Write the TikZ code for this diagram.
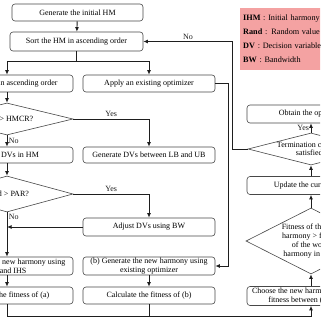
\documentclass[tikz,border=0pt]{standalone}
\usepackage{fontspec}
\setmainfont{Liberation Serif}
\usetikzlibrary{arrows.meta,positioning,shapes.geometric}
\definecolor{ink}{HTML}{1E1E1E}
\definecolor{rim}{HTML}{474747}
\definecolor{blush}{HTML}{F4A2A2}
\newcommand{\flowtxt}{\fontsize{8}{8.8}\selectfont}
\tikzset{stepbox/.style={draw=rim,rounded corners=3pt,line width=.6pt,fill=white,inner sep=1pt,font=\flowtxt,align=center,minimum width=132pt,minimum height=17pt}, query/.style={draw=rim,diamond,line width=.6pt,inner sep=0pt,fill=white}, flow/.style={line width=.9pt,ink,-{Latex[length=4.5pt,width=4pt]}}, plain/.style={line width=.9pt,ink}, tag/.style={font=\flowtxt,inner sep=1.5pt,align=center}, keybox/.style={fill=blush,inner xsep=3pt,inner ysep=7pt,text width=150pt,align=left,font=\fontsize{8.2}{14}\selectfont}}

\begin{document}
\begin{tikzpicture}[x=1pt,y=-1pt]
\useasboundingbox (0,0) rectangle (320,320);
\clip (0,0) rectangle (320,320);
\fill[white] (0,0) rectangle (320,320);
% top
\node[stepbox,minimum width=131pt] (init) at (77.5,12.5) {Generate the initial HM};
\node[stepbox,minimum width=133pt,minimum height=19pt] (sorthm) at (76.5,41.5) {Sort the HM in ascending order};
% harmony search branch
\node[stepbox] (half) at (7,83.5) {Sort the HM in ascending order};
\node[query,minimum width=132pt,minimum height=32pt,label={[tag]center:Rand > HMCR?}] (hmcr) at (7,119) {};
\node[stepbox,minimum height=16pt] (pickdv) at (7,155) {Choose DVs in HM};
\node[query,minimum width=132pt,minimum height=36pt,label={[tag]center:Rand > PAR?}] (par) at (7,194) {};
\node[stepbox,minimum height=18pt] (boxa) at (7,266) {(a) Generate the new harmony using\\HS and IHS};
\node[stepbox] (fita) at (7,295.5) {Calculate the fitness of (a)};
% optimizer branch
\node[stepbox] (apply) at (149,83.5) {Apply an existing optimizer};
\node[stepbox,minimum height=16pt] (gendv) at (149,155) {Generate DVs between LB and UB};
\node[stepbox,minimum height=18pt] (adjust) at (149,227) {Adjust DVs using BW};
\node[stepbox,minimum height=18pt] (boxb) at (149,266) {(b) Generate the new harmony using\\existing optimizer};
\node[stepbox] (fitb) at (149,295.5) {Calculate the fitness of (b)};
% update column
\node[keybox,anchor=north west] (key) at (240,8) {\textbf{IHM} : Initial harmony memory\\\textbf{Rand} : Random value between 0 and 1\\\textbf{DV} : Decision variable\\\textbf{BW} : Bandwidth};
\node[stepbox,minimum width=128pt,minimum height=18pt] (best) at (311,114) {Obtain the optimum};
\node[query,minimum width=126pt,minimum height=32pt,label={[tag]center:Termination criterion\\satisfied?}] (term) at (311,149) {};
\node[stepbox,minimum width=128pt,minimum height=18pt] (update) at (311,185.5) {Update the current HM};
\node[query,minimum width=130pt,minimum height=66pt,label={[tag]center:Fitness of the new\\harmony > fitness\\of the worst\\harmony in HM?}] (better) at (311,241) {};
\node[stepbox,minimum width=128pt,minimum height=19pt] (pick) at (311,296) {Choose the new harmony with better\\fitness between (a) and (b)};

\draw[flow] (init) -- (sorthm);
\draw[plain] (sorthm.south) -- ++(0,10) coordinate (fork);
\draw[flow] (fork) -| (half.north);
\draw[flow] (fork) -| (apply.north);
\draw[flow] (half) -- (hmcr);
\draw[flow] (hmcr.east) -| node[tag,above,pos=.25] {Yes} (gendv.north);
\draw[flow] (hmcr) -- node[tag,right] {No} (pickdv);
\draw[flow] (pickdv) -- (par);
\draw[flow] (par.east) -| node[tag,above,pos=.25] {Yes} (adjust.north);
\draw[flow] (par) -- node[tag,right,pos=.1] {No} (boxa);
\draw[flow] (adjust.west) -- (adjust.west -| par.south);
\draw[flow] (apply.east) -- ++(13,0) |- (boxb.east);
\draw[flow] (boxa) -- (fita);
\draw[flow] (boxb) -- (fitb);
\draw[flow] (fita.south) -- ++(0,12.5) -| (pick.south);
\draw[plain] (fitb.south) -- ++(0,12.5);
\draw[flow] (pick) -- (better);
\draw[flow] (better) -- (update);
\draw[flow] (update) -- (term);
\draw[flow] (term) -- node[tag,left] {Yes} (best);
\draw[flow] (term.west) -- ++(-15,0) |- node[tag,above,pos=.75] {No} (sorthm.east);
\end{tikzpicture}
\end{document}
